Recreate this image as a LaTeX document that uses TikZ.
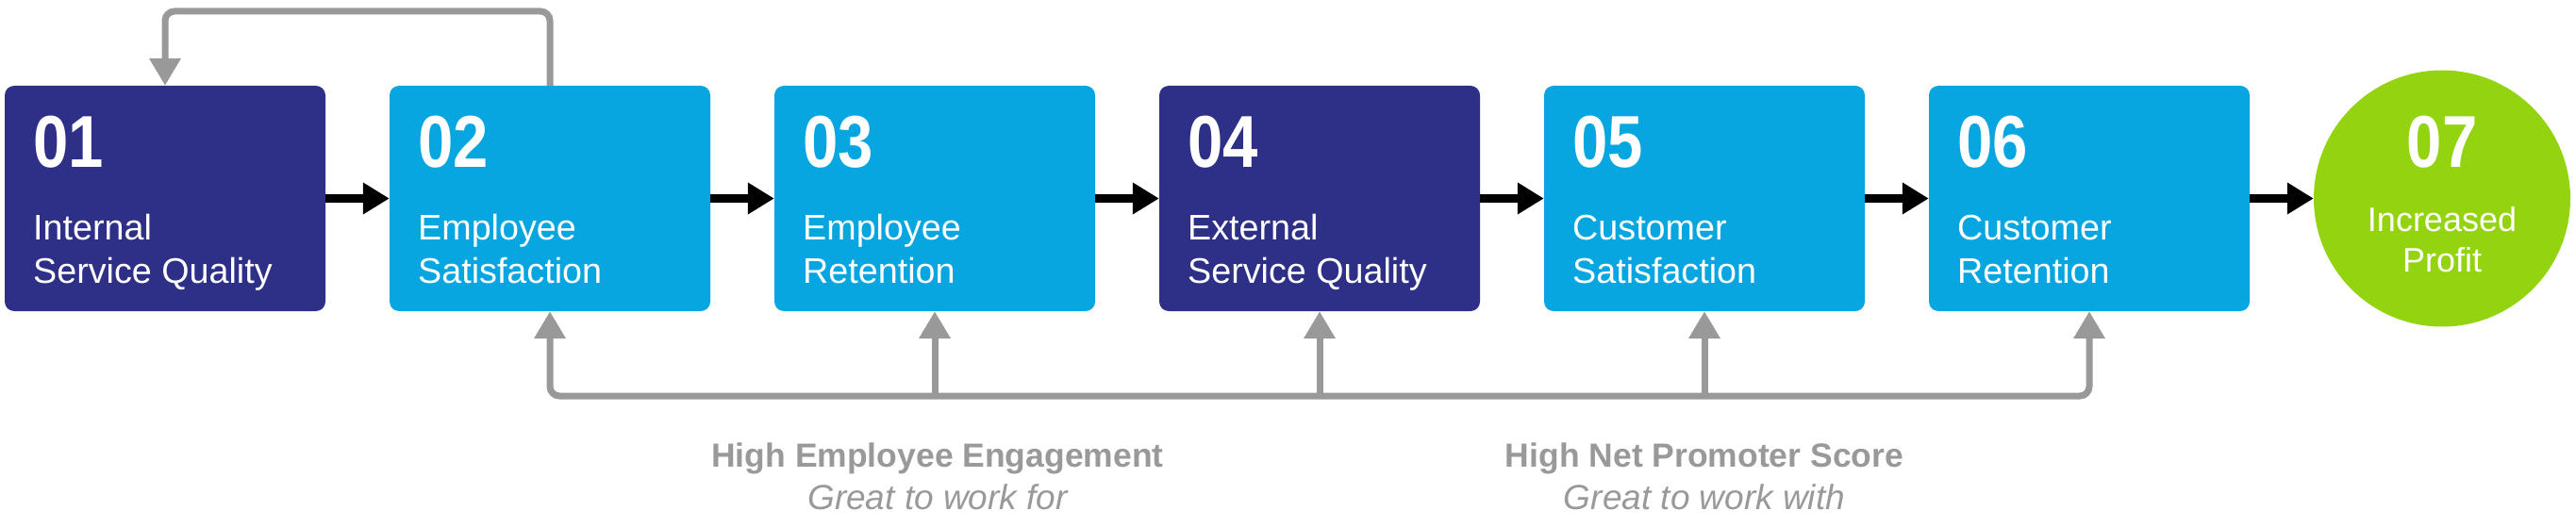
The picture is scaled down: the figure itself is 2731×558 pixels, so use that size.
\documentclass[tikz,border=0pt]{standalone}
\usepackage{fontspec}
\setmainfont{Liberation Sans}
\newfontfamily\numfont{Liberation Sans}[FakeStretch=0.86]
\usetikzlibrary{arrows.meta}
\definecolor{azulescuro}{RGB}{46,47,134}
\definecolor{azulclaro}{RGB}{8,166,224}
\definecolor{verde}{RGB}{147,211,16}
\definecolor{cinza}{RGB}{153,153,153}
\tikzset{
  etapa/.style={rectangle, rounded corners=10pt, minimum width=340pt, minimum height=239pt, inner sep=0pt},
  numero/.style={anchor=base west, text=white, inner sep=0pt, font=\numfont\bfseries\fontsize{78}{78}\selectfont},
  rotulo/.style={anchor=base west, text=white, inner sep=0pt, align=left, font=\fontsize{37.7}{46}\selectfont},
  seta/.style={-{Triangle[width=32pt,length=28pt]}, line width=8pt},
  retorno/.style={cinza, line width=7pt, -{Triangle[width=32pt,length=29pt]}},
  legenda/.style={anchor=base, text=cinza, inner sep=0pt, font=\bfseries\fontsize{35.5}{40}\selectfont},
  frase/.style={anchor=base, text=cinza, inner sep=0pt, font=\itshape\fontsize{37}{42}\selectfont}
}
\begin{document}
\begin{tikzpicture}[x=1pt,y=1pt]
  \useasboundingbox (0,0) rectangle (2731,558);
  % Etapas da cadeia
  \node[etapa, fill=azulescuro] (b1) at (175,347.5) {};        % Primeira etapa
  \node[etapa, fill=azulclaro]  (b2) at (583,347.5) {};        % Segunda etapa
  \node[etapa, fill=azulclaro]  (b3) at (991,347.5) {};        % Terceira etapa
  \node[etapa, fill=azulescuro] (b4) at (1399,347.5) {};       % Quarta etapa
  \node[etapa, fill=azulclaro]  (b5) at (1807,347.5) {};       % Quinta etapa
  \node[etapa, fill=azulclaro]  (b6) at (2215,347.5) {};       % Sexta etapa
  \node[circle, fill=verde, minimum size=272pt, inner sep=0pt] (c7) at (2589,347.5) {}; % Resultado
  % Numeros
  \node[numero] (n1) at (35,381) {01};
  \node[numero] (n2) at (443,381) {02};
  \node[numero] (n3) at (851,381) {03};
  \node[numero] (n4) at (1259,381) {04};
  \node[numero] (n5) at (1667,381) {05};
  \node[numero] (n6) at (2075,381) {06};
  \node[numero, anchor=base] (n7) at (2589,381) {07};
  % Rotulos (ancorados na ultima linha)
  \node[rotulo] (r1) at (35,258) {Internal\\Service Quality};
  \node[rotulo] (r2) at (443,258) {Employee\\Satisfaction};
  \node[rotulo] (r3) at (851,258) {Employee\\Retention};
  \node[rotulo] (r4) at (1259,258) {External\\Service Quality};
  \node[rotulo] (r5) at (1667,258) {Customer\\Satisfaction};
  \node[rotulo] (r6) at (2075,258) {Customer\\Retention};
  \node[rotulo, anchor=base, align=center, font=\fontsize{36}{43}\selectfont] (r7) at (2589,270) {Increased\\Profit};
  % Setas principais
  \draw[seta] (b1) -- (b2);
  \draw[seta] (b2) -- (b3);
  \draw[seta] (b3) -- (b4);
  \draw[seta] (b4) -- (b5);
  \draw[seta] (b5) -- (b6);
  \draw[seta] (b6) -- (c7);
  % Retornos
  \coordinate (topo) at (0,546);
  \coordinate (barra) at (0,138);
  \draw[retorno, rounded corners=10pt] (b2.north) -- (b2.north |- topo) -- (b1.north |- topo) -- (b1.north);
  \draw[retorno, {Triangle[width=32pt,length=29pt]}-{Triangle[width=32pt,length=29pt]}, rounded corners=10pt]
    (b2.south) -- (b2.south |- barra) -- (b6.south |- barra) -- (b6.south);
  \draw[retorno] (b3.south |- barra) -- (b3.south);
  \draw[retorno] (b4.south |- barra) -- (b4.south);
  \draw[retorno] (b5.south |- barra) -- (b5.south);
  % Legendas
  \node[legenda] (eng) at (994,63) {High Employee Engagement};
  \node[frase] (eng2) at (994,18) {Great to work for};
  \node[legenda] (nps) at (1807,63) {High Net Promoter Score};
  \node[frase] (nps2) at (1807,18) {Great to work with};
\end{tikzpicture}
\end{document}
